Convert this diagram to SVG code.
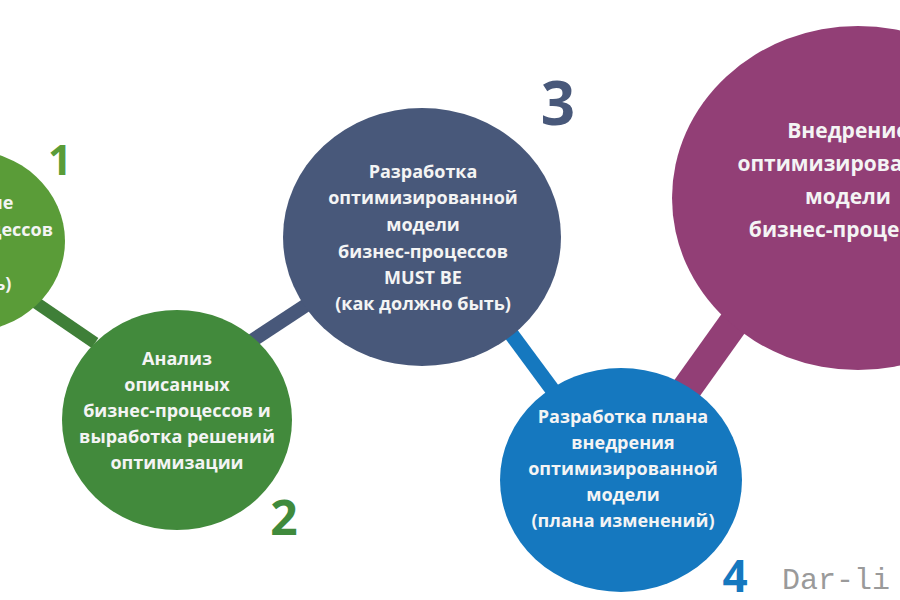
<svg xmlns="http://www.w3.org/2000/svg" width="900" height="600" viewBox="0 0 900 600">
<style>
.t{font-family:"Open Sans","Noto Sans","DejaVu Sans",sans-serif;font-weight:700;fill:#f4f4f4;text-anchor:middle}
.n{font-family:"Open Sans","Noto Sans",sans-serif;font-weight:700;text-anchor:middle}
.c{fill:none;stroke-linecap:butt}
</style>
<rect width="900" height="600" fill="#ffffff"/>
<g id="connectors">
<line class="c" x1="35" y1="302" x2="95" y2="343" stroke="#3f7f38" stroke-width="12"/>
<line class="c" x1="250" y1="342" x2="320" y2="296" stroke="#48587a" stroke-width="14"/>
<line class="c" x1="495" y1="312" x2="560" y2="400" stroke="#1578bf" stroke-width="15"/>
<line class="c" x1="750" y1="300" x2="680" y2="398" stroke="#923f76" stroke-width="30"/>
</g>
<g id="node1">
<ellipse cx="-33" cy="241" rx="98" ry="91" fill="#5a9c38"/>
<text class="t" font-size="18"><tspan x="-34" y="209">Описание</tspan><tspan x="-32" y="236">бизнес-процессов</tspan><tspan x="-34" y="290">(как есть)</tspan></text>
<text class="n" x="60" y="175" font-size="42" fill="#5a9c38">1</text>
</g>
<g id="node2">
<ellipse cx="177" cy="420" rx="115" ry="110" fill="#428a3c"/>
<text class="t" font-size="18"><tspan x="177" y="365">Анализ</tspan><tspan x="177" y="391">описанных</tspan><tspan x="177" y="417">бизнес-процессов и</tspan><tspan x="177" y="443">выработка решений</tspan><tspan x="177" y="469">оптимизации</tspan></text>
<text class="n" x="284" y="535" font-size="48" fill="#3f8a3c">2</text>
</g>
<g id="node3">
<ellipse cx="422" cy="237" rx="139" ry="129" fill="#48587a"/>
<text class="t" font-size="18"><tspan x="423" y="178">Разработка</tspan><tspan x="423" y="204">оптимизированной</tspan><tspan x="423" y="231">модели</tspan><tspan x="423" y="258">бизнес-процессов</tspan><tspan x="423" y="284">MUST BE</tspan><tspan x="423" y="310">(как должно быть)</tspan></text>
<text class="n" x="558" y="125" font-size="60" font-weight="600" fill="#48587a">3</text>
</g>
<g id="node4">
<ellipse cx="621" cy="480" rx="121" ry="112" fill="#1578bf"/>
<text class="t" font-size="18"><tspan x="623" y="423">Разработка плана</tspan><tspan x="623" y="449">внедрения</tspan><tspan x="623" y="475">оптимизированной</tspan><tspan x="623" y="501">модели</tspan><tspan x="623" y="527">(плана изменений)</tspan></text>
<text class="n" x="735" y="592" font-size="44" fill="#1578bf">4</text>
</g>
<g id="node5">
<ellipse cx="858" cy="198" rx="186" ry="172" fill="#923f76"/>
<text class="t" font-size="21"><tspan x="848" y="138">Внедрение</tspan><tspan x="848" y="171">оптимизированной</tspan><tspan x="848" y="204">модели</tspan><tspan x="848" y="237">бизнес-процессов</tspan></text>
</g>
<text x="782" y="589" font-family="'Liberation Mono','Courier New',monospace" font-size="30" fill="#9a9a9a">Dar-li</text>
</svg>
